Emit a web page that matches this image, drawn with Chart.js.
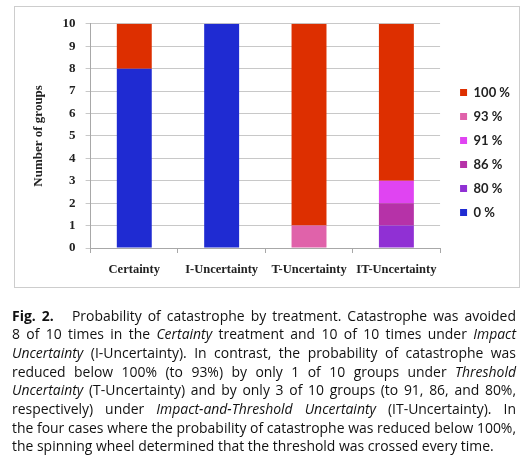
<!DOCTYPE html>
<html><head><meta charset="utf-8">
<script src="https://cdn.jsdelivr.net/npm/chart.js@4"></script>
<style>
html,body{margin:0;padding:0;background:#fff;width:529px;height:463px;overflow:hidden;}
#frame{position:absolute;left:14px;top:6px;width:506px;height:282px;box-sizing:border-box;border:1.5px solid #cdcdcd;}
#wrap{position:absolute;left:14px;top:6px;width:506px;height:282px;}
#cap{position:absolute;left:12px;top:306.5px;width:504px;font-family:"Open Sans",Lato,sans-serif;font-size:14px;line-height:18.7px;color:#111;}
#cap div{text-align:justify;text-align-last:justify;white-space:nowrap;}
#cap div.last{text-align-last:left;}
</style></head><body>
<div id="wrap"><canvas id="c" width="506" height="282"></canvas></div>
<div id="frame"></div>
<div id="cap">
<div><b>Fig. 2.</b>&nbsp;&nbsp; Probability of catastrophe by treatment. Catastrophe was avoided</div>
<div>8 of 10 times in the <i>Certainty</i> treatment and 10 of 10 times under <i>Impact</i></div>
<div><i>Uncertainty</i> (I-Uncertainty). In contrast, the probability of catastrophe was</div>
<div>reduced below 100% (to 93%) by only 1 of 10 groups under <i>Threshold</i></div>
<div><i>Uncertainty</i> (T-Uncertainty) and by only 3 of 10 groups (to 91, 86, and 80%,</div>
<div>respectively) under <i>Impact-and-Threshold Uncertainty</i> (IT-Uncertainty). In</div>
<div>the four cases where the probability of catastrophe was reduced below 100%,</div>
<div class="last">the spinning wheel determined that the threshold was crossed every time.</div>
</div>
<script>
const categories = ["Certainty", "I-Uncertainty", "T-Uncertainty", "IT-Uncertainty"];
const seriesNames = ["0 %", "80 %", "86 %", "91 %", "93 %", "100 %"];
const s0 = [8, 10, 0, 0];
const s80 = [0, 0, 0, 1];
const s86 = [0, 0, 0, 1];
const s91 = [0, 0, 0, 1];
const s93 = [0, 0, 1, 0];
const s100 = [2, 0, 9, 7];
const yTicks = [0,1,2,3,4,5,6,7,8,9,10];
const colors = ["#1f2bd2", "#9030d4", "#b632a8", "#e044f2", "#e062aa", "#dd2f00"];
const values = [s0, s80, s86, s91, s93, s100];

// fit caption font size so last (unjustified) line spans ~490px and no line exceeds 504px
(function(){
  const cap = document.getElementById('cap');
  const lines = Array.from(cap.children);
  function natural(el){ const r = document.createRange(); r.selectNodeContents(el); return r.getBoundingClientRect().width; }
  let fs = 14;
  cap.style.fontSize = fs + 'px';
  let w = natural(lines[lines.length-1]);
  fs = fs * 490 / w;
  cap.style.fontSize = fs + 'px';
  let mx = Math.max(...lines.map(natural));
  if (mx > 503) { fs = fs * 503 / mx; cap.style.fontSize = fs + 'px'; }
})();

const serif = "'Liberation Serif', serif";
new Chart(document.getElementById('c'), {
  type: 'bar',
  data: {
    labels: categories,
    datasets: values.map((v, i) => ({
      label: seriesNames[i], data: v, backgroundColor: colors[i],
      borderWidth: 0, categoryPercentage: 1, barPercentage: 0.4
    }))
  },
  options: {
    responsive: false, animation: false,
    layout: {padding: {left: 12, top: 13, right: 0, bottom: 2}},
    plugins: {
      tooltip: {enabled: false},
      legend: {
        position: 'right', reverse: true,
        labels: {boxWidth: 7, boxHeight: 7, padding: 11, color: '#222',
          font: {family: "Lato, sans-serif", size: 13, weight: 'bold'}}
      }
    },
    scales: {
      x: {
        stacked: true,
        grid: {display: true, drawOnChartArea: false, drawTicks: true, tickLength: 5, color: '#a8a8a8', offset: true},
        border: {display: true, color: '#a8a8a8', width: 1},
        ticks: {padding: 9, color: '#222', maxRotation: 0, minRotation: 0, autoSkip: false,
          font: {family: serif, size: 12.5, weight: 'bold'}}
      },
      y: {
        stacked: true, min: 0, max: 10,
        afterBuildTicks: s => { s.ticks = yTicks.map(v => ({value: v})); },
        grid: {color: '#c8c8c8', tickLength: 5, drawTicks: true},
        border: {display: true, color: '#a8a8a8'},
        ticks: {padding: 10, color: '#222', font: {family: serif, size: 13, weight: 'bold'}},
        title: {display: true, text: 'Number of groups', color: '#222', padding: {top: 5, bottom: 6},
          font: {family: serif, size: 13, weight: 'bold'}}
      },
      y2: {
        position: 'right', display: true,
        grid: {display: false}, border: {display: false}, ticks: {display: false},
        afterFit: s => { s.width = 9; }
      }
    }
  }
});
</script>
</body></html>
